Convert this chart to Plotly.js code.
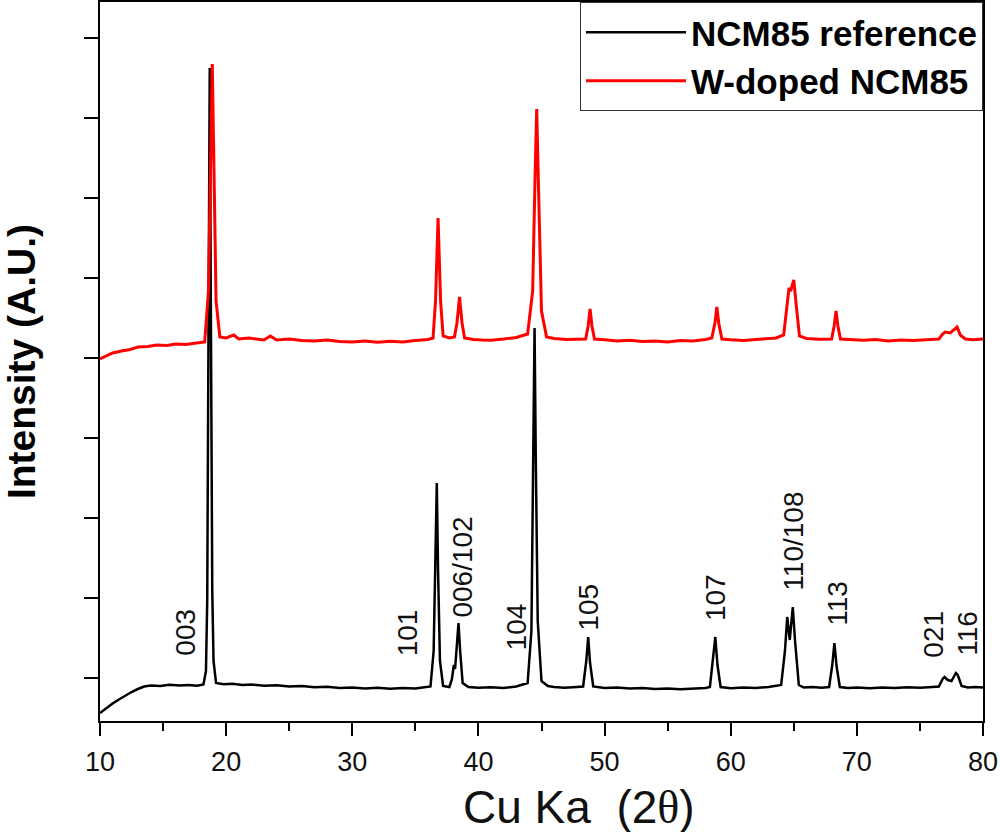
<!DOCTYPE html>
<html lang="en">
<head>
    <meta charset="UTF-8">
    <script src="https://cdn.plot.ly/plotly-3.0.1.min.js"></script>
    <style>
        html, body, #plot {
            height: 100%;
            width: 100%;
            margin: 0;
            padding: 0;
            overflow: hidden;
            background: #ffffff;
        }
    </style>
</head>
<body>
<div id="plot"></div>
<script>
    // 2-theta (deg) and intensity (a.u.)
    const refTheta = [10, 10.5, 11, 11.5, 12, 12.5, 13, 13.5, 14, 14.8, 15.5, 16.3, 17, 17.7,
        18.2, 18.4, 18.5, 18.6, 18.7, 18.8, 18.9, 19.0, 19.2, 19.8, 20.5, 21.3, 22, 23, 24, 25, 26, 27, 28,
        29, 30, 31, 32, 33, 34, 35, 35.8, 36.2, 36.45, 36.6, 36.7, 36.8, 36.95, 37.2, 37.7, 37.9, 38.05,
        38.15, 38.3, 38.42, 38.55, 38.75, 39.2, 40, 41, 42, 43, 43.9, 44.2, 44.35, 44.45, 44.55, 44.7,
        45.0, 45.5, 46, 46.8, 47.5, 48.3, 48.55, 48.7, 48.85, 49.1, 50, 51, 52, 53, 54, 55, 56, 57, 58,
        58.35, 58.6, 58.78, 58.95, 59.2, 60, 61, 62, 63, 64.0, 64.3, 64.48, 64.68, 64.92, 65.1, 65.4,
        65.8, 66.5, 67.2, 67.8, 68.05, 68.22, 68.4, 68.65, 69.3, 70, 71, 72, 73, 74, 75, 76, 76.5,
        76.8, 76.95, 77.2, 77.5, 77.85, 78.0, 78.3, 78.8, 79.4, 80];
    const refInt = [80, 130, 175, 215, 255, 290, 320, 345, 355, 350, 362, 355, 360, 352,
        365, 500, 1200, 3500, 6530, 3800, 1300, 600, 380, 368, 372, 360, 365, 352, 358, 345, 350, 338, 342,
        330, 335, 325, 332, 322, 330, 326, 335, 345, 700, 1600, 2380, 1500, 600, 350, 340, 420, 560,
        520, 800, 980, 700, 380, 340, 332, 338, 330, 345, 380, 900, 2500, 3930, 2600, 1000,
        400, 350, 340, 332, 338, 345, 600, 840, 580, 345, 330, 336, 325, 330, 320, 326, 318, 325, 330,
        340, 600, 840, 560, 340, 328, 335, 330, 340, 360, 700, 1040, 810, 1140, 800, 360,
        335, 340, 332, 340, 560, 780, 540, 340, 330, 336, 328, 335, 330, 338, 332, 340, 345,
        420, 440, 410, 400, 480, 460, 350, 335, 340, 335];

    const wTheta = [10, 10.5, 11, 11.7, 12.4, 13, 13.8, 14.5, 15.3, 16, 16.8, 17.5, 18.3, 18.6, 18.8, 18.9,
        19.0, 19.2, 19.5, 20, 20.6, 21, 21.8, 22.5, 23, 23.5, 24, 25, 26, 27, 28, 29, 30, 31, 32, 33, 34,
        35, 36, 36.4, 36.6, 36.8, 37.0, 37.2, 37.7, 38.1, 38.3, 38.5, 38.7, 38.9, 39.6, 40.3, 41, 42, 43,
        43.9, 44.3, 44.5, 44.62, 44.75, 45.0, 45.4, 46, 47, 48, 48.5, 48.7, 48.85, 49.0, 49.2, 50, 51, 52,
        53, 54, 55, 56, 57, 58, 58.5, 58.75, 58.9, 59.05, 59.3, 60, 61, 62, 63, 63.6, 64.2, 64.45, 64.62,
        64.75, 65.0, 65.2, 65.45, 66, 67, 68.0, 68.2, 68.35, 68.5, 68.7, 69.5, 70.5, 71.5, 72.5, 73.5,
        74.5, 75.5, 76.5, 76.8, 77.0, 77.4, 77.95, 78.2, 78.6, 79.2, 80];
    const wInt = [3620, 3650, 3680, 3700, 3715, 3740, 3745, 3760, 3755, 3770, 3765, 3778, 3790, 4300, 5800, 6570,
        5800, 4200, 3840, 3830, 3860, 3820, 3830, 3815, 3810, 3850, 3810, 3820, 3805, 3800, 3810, 3795, 3790, 3800, 3788, 3798, 3790,
        3805, 3815, 3830, 4200, 5030, 4200, 3850, 3830, 3840, 3980, 4240, 3980, 3830, 3815, 3810, 3808, 3820, 3835,
        3870, 4300, 5500, 6120, 5400, 4100, 3840, 3825, 3815, 3822, 3820, 3950, 4120, 3950, 3820, 3812, 3800, 3808,
        3795, 3800, 3790, 3805, 3800, 3815, 3830, 3980, 4140, 3980, 3820, 3812, 3805, 3815, 3820, 3830, 3860, 4150, 4330,
        4300, 4410, 4150, 3850, 3825, 3818, 3820, 3950, 4100, 3950, 3820, 3812, 3808, 3815, 3800, 3810,
        3805, 3812, 3820, 3870, 3890, 3880, 3940, 3860, 3820, 3812, 3820];

    // hkl labels: text, 2-theta, intensity at bottom of label
    const hklText = ['003', '101', '006/102', '104', '105', '107', '110/108', '113', '021', '116'];
    const hklTheta = [16.75, 34.4, 38.7, 43.05, 48.7, 58.8, 64.95, 68.45, 76.05, 78.75];
    const hklInt = [630, 630, 1010, 690, 880, 980, 1280, 930, 610, 630];

    const font = 'Liberation Sans, Arial, sans-serif';

    const traces = [
        {
            x: refTheta, y: refInt,
            type: 'scatter', mode: 'lines',
            name: 'NCM85 reference',
            line: {color: '#000000', width: 2.5}
        },
        {
            x: wTheta, y: wInt,
            type: 'scatter', mode: 'lines',
            name: 'W-doped NCM85',
            line: {color: '#ff0000', width: 3}
        }
    ];

    const annotations = hklText.map((t, i) => ({
        x: hklTheta[i], y: hklInt[i],
        xref: 'x', yref: 'y',
        text: t,
        showarrow: false,
        textangle: -90,
        xanchor: 'center', yanchor: 'bottom',
        font: {family: font, size: 28, color: '#111111'}
    }));

    // x-axis title sits a bit right of centre in the original
    annotations.push({
        x: 0.542, y: -0.08,
        xref: 'paper', yref: 'paper',
        text: 'Cu Ka  (2<span style="font-family:Liberation Serif">θ</span>)',
        showarrow: false,
        xanchor: 'center', yanchor: 'top',
        font: {family: font, size: 46, color: '#111111'}
    });

    const layout = {
        width: 1000,
        height: 832,
        margin: {l: 100, r: 17, t: 2, b: 111, pad: 0},
        paper_bgcolor: '#ffffff',
        plot_bgcolor: '#ffffff',
        showlegend: true,
        legend: {
            x: 1, y: 1,
            xanchor: 'right', yanchor: 'top',
            bgcolor: '#ffffff',
            bordercolor: '#333333',
            borderwidth: 1,
            itemwidth: 100,
            tracegroupgap: 0,
            font: {family: font, size: 35, color: '#000000', weight: 'bold'}
        },
        xaxis: {
            range: [10, 80],
            tickmode: 'linear', tick0: 10, dtick: 10,
            ticks: 'outside', ticklen: 13, tickwidth: 2, tickcolor: '#000000',
            ticklabelstandoff: 3,
            minor: {dtick: 5, ticks: 'outside', ticklen: 8, tickwidth: 2, tickcolor: '#000000'},
            showline: true, linecolor: '#000000', linewidth: 2, mirror: true,
            showgrid: false, zeroline: false,
            tickfont: {family: font, size: 27, color: '#111111'}
        },
        yaxis: {
            range: [0, 7190],
            tickmode: 'linear', tick0: 430, dtick: 800,
            ticks: 'outside', ticklen: 14, tickwidth: 2, tickcolor: '#000000',
            showticklabels: false,
            showline: true, linecolor: '#000000', linewidth: 2, mirror: true,
            showgrid: false, zeroline: false,
            title: {
                text: 'Intensity (A.U.)',
                standoff: 40,
                font: {family: font, size: 39, color: '#000000', weight: 'bold'}
            }
        },
        annotations: annotations
    };

    Plotly.newPlot('plot', traces, layout, {displayModeBar: false});
</script>
</body>
</html>
